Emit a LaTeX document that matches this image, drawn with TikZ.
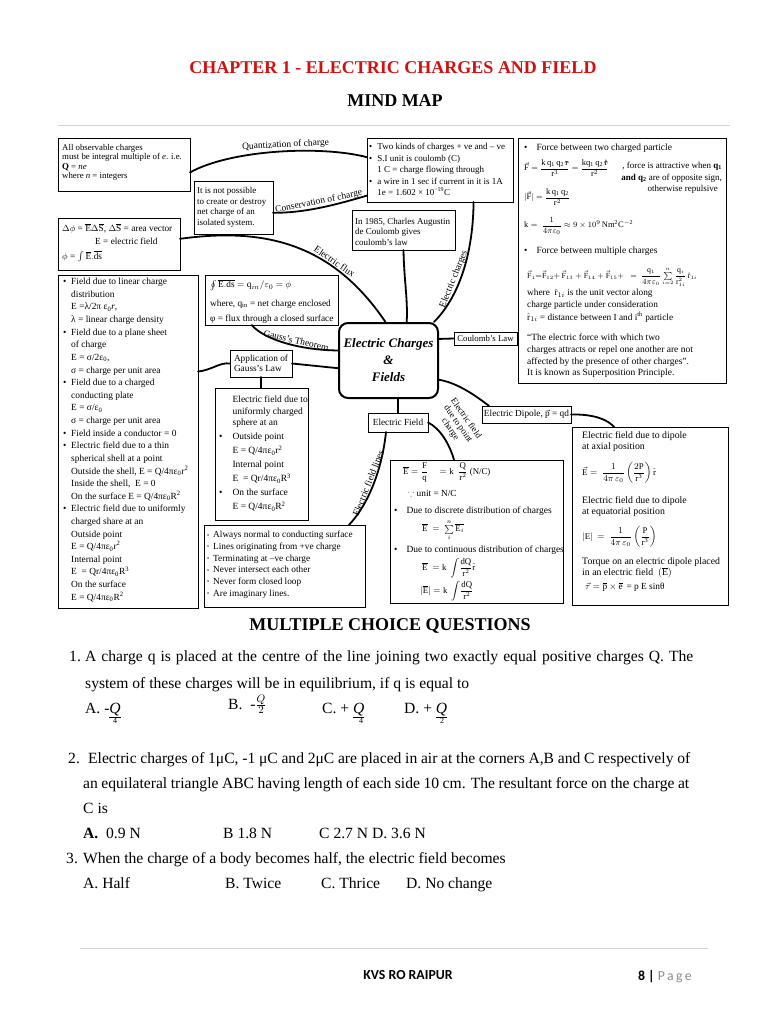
\documentclass[tikz,border=0pt]{standalone}
\usepackage{amsmath,amssymb}
\usepackage{fontspec}
\setmainfont{Liberation Serif}
\newfontfamily\calfont{Carlito}
\usetikzlibrary{calc}
\definecolor{titlered}{RGB}{210,16,16}
\definecolor{rulegray}{RGB}{210,210,210}
\definecolor{pagegray}{RGB}{140,140,140}
\newcommand{\mf}{\fontsize{9.3}{11}\selectfont}
\newcommand{\bu}[1][8pt]{\makebox[#1][l]{\textbullet}}
\newcommand{\ii}[1][8pt]{\hspace*{#1}}
\newcommand{\sbu}{\makebox[6pt][l]{\raisebox{0.6pt}{\fontsize{6}{6}\selectfont\textbullet}}}
\newcommand{\tsub}[1]{\textsubscript{#1}}
\newcommand{\tsup}[1]{\textsuperscript{#1}}
\begin{document}
\begin{tikzpicture}[x=1pt,y=-1pt,
  box/.style={draw, line width=0.6pt, anchor=north west, inner sep=0pt, outer sep=0pt},
  ibox/.style={box, align=left, font=\fontsize{8.8}{10}\selectfont},
  tx/.style={anchor=north west, inner sep=0pt, align=left, font=\mf},
  fx/.style={anchor=west, inner sep=0pt, font=\mf},
  branch/.style={line width=1.8pt, line cap=round},
  conn/.style={line width=0.9pt},
  blab/.style={font=\fontsize{9.5}{10}\selectfont, inner sep=1pt},
  body/.style={anchor=base west, inner sep=0pt, font=\fontsize{15.6}{18}\selectfont},
  head/.style={inner sep=0pt, font=\fontsize{18}{20}\selectfont\bfseries}
]
\useasboundingbox[fill=white] (0,0) rectangle (768,1024);

% ---------- header ----------
\node[head, text=titlered] (title) at (393,68) {CHAPTER 1 - ELECTRIC CHARGES AND FIELD};
\node[head] (mindmap) at (395,101) {MIND MAP};
\coordinate (rl) at (58,125); \coordinate (rr) at (730,125);
\draw[rulegray, line width=0.8pt] (rl) -- (rr);

% ---------- boxes ----------
\node[box, minimum width=132pt, minimum height=53pt] (b1) at (58,138) {};
\node[box, minimum width=122pt, minimum height=52pt] (b2) at (58,218) {};
\node[box, minimum width=140pt, minimum height=333pt] (b3) at (58,275) {};
\node[box, minimum width=79pt, minimum height=53pt] (b4) at (194,181) {};
\node[box, minimum width=146pt, minimum height=64pt] (b5) at (367,138) {};
\node[box, minimum width=103pt, minimum height=40pt] (b6) at (352,210) {};
\node[box, minimum width=208pt, minimum height=245pt] (b7) at (518,138) {};
\node[box, minimum width=133pt, minimum height=50pt] (b8) at (205,275) {};
\node[ibox, minimum width=62pt, minimum height=27pt, font=\fontsize{9.3}{10.5}\selectfont] (b9) at (230,350) {Application of\\Gauss's Law};
\node[ibox, minimum width=63pt, minimum height=13pt] (b11) at (454,332) {Coulomb's Law};
\node[box, minimum width=93pt, minimum height=132pt] (b12) at (215,388) {};
\node[ibox, minimum width=60pt, minimum height=19pt, font=\fontsize{9.3}{10}\selectfont] (b13) at (368,413) {Electric Field};
\node[ibox, minimum width=89pt, minimum height=17pt, font=\fontsize{9.3}{10}\selectfont] (b14) at (482,406) {Electric Dipole, $\vec{\mathrm p}$ = qd};
\node[box, minimum width=173pt, minimum height=143pt] (b15) at (390,460) {};
\node[box, minimum width=161pt, minimum height=82pt] (b16) at (204,525) {};
\node[box, minimum width=156pt, minimum height=178pt] (b17) at (572,427) {};
\node[draw, line width=2pt, rounded corners=9pt, anchor=north west, inner sep=0pt,
      minimum width=99pt, minimum height=75pt, align=center,
      font=\fontsize{13}{17}\selectfont\bfseries\itshape] (c) at (338,322)
      {Electric Charges\\\&\\Fields};

% ---------- box texts ----------
\node[tx, font=\fontsize{8.8}{9.4}\selectfont] (t1) at (62,144)
 {All observable charges\\ must be integral multiple of \textit{e}. i.e.\\ \textbf{Q} = \textit{ne}\\ where \textit{n} = integers};
\node[tx] (t2) at (62,223)
 {$\Delta\phi$ = $\overline{\mathrm E}\Delta\overline{\mathrm S}$, $\Delta\overline{\mathrm S}$ = area vector\\[2pt]
  \hspace*{33pt}E = electric field\\[4pt]
  $\phi$ = $\int\overline{\mathrm E}.\overline{\mathrm{ds}}$};
\node[tx, font=\fontsize{9.4}{12.62}\selectfont] (t3) at (63,278)
 {\bu Field due to linear charge\\
  \ii distribution\\
  \ii E =λ/2π ε\tsub{0}\textit{r},\\
  \ii λ = linear charge density\\
  \bu Field due to a plane sheet\\
  \ii of charge\\
  \ii E = σ/2ε\tsub{0},\\
  \ii σ = charge per unit area\\
  \bu Field due to a charged\\
  \ii conducting plate\\
  \ii E = σ/ε\tsub{0}\\
  \ii σ = charge per unit area\\
  \bu Field inside a conductor = 0\\
  \bu Electric field due to a thin\\
  \ii spherical shell at a point\\
  \ii Outside the shell, E = Q/4πε\tsub{0}r\tsup{2}\\
  \ii Inside the shell, \ E = 0\\
  \ii On the surface E = Q/4πε\tsub{0}R\tsup{2}\\
  \bu Electric field due to uniformly\\
  \ii charged share at an\\
  \ii Outside point\\
  \ii E = Q/4πε\tsub{0}r\tsup{2}\\
  \ii Internal point\\
  \ii E \ = Qr/4πε\tsub{0}R\tsup{3}\\
  \ii On the surface\\
  \ii E = Q/4πε\tsub{0}R\tsup{2}};
\node[tx, font=\fontsize{9}{10.7}\selectfont] (t4) at (197,187)
 {It is not possible\\ to create or destroy\\ net charge of an\\ isolated system.};
\node[tx, font=\fontsize{9}{11.5}\selectfont] (t5) at (369,143)
 {\bu[6pt] Two kinds of charges + ve and -- ve\\
  \bu[6pt] S.I unit is coulomb (C)\\
  \ii[6pt] 1 C = charge flowing through\\
  \bu[6pt] a wire in 1 sec if current in it is 1A\\
  \ii[6pt] 1e = 1.602 × 10\tsup{−19}C};
\node[tx, font=\fontsize{9}{10.5}\selectfont] (t6) at (355,218)
 {In 1985, Charles Augustin\\ de Coulomb gives\\ coulomb's law};

% Coulomb box
\node[tx, font=\fontsize{9.5}{11}\selectfont] (c1) at (524,144) {\bu[10pt] Force between two charged particle};
\node[fx, font=\fontsize{8.5}{10}\selectfont] (c2) at (524,168) {$\vec{\mathrm F} = \dfrac{\mathrm{k\,q_1\,q_2\,\vec r}}{\mathrm r^3} = \dfrac{\mathrm{kq_1\,q_2\,\hat r}}{\mathrm r^2}$};
\node[tx, anchor=north east, align=right, font=\fontsize{9}{11.5}\selectfont] (c3) at (722,162)
 {, force is attractive when \textbf{q\tsub{1}}\\ \textbf{and q\tsub{2}} are of opposite sign,\\ otherwise repulsive\hspace*{4pt}};
\node[fx, font=\fontsize{8.5}{10}\selectfont] (c4) at (524,197) {$|\vec{\mathrm F}| = \dfrac{\mathrm{k\,q_1\,q_2}}{\mathrm r^2}$};
\node[fx, font=\fontsize{8.5}{10}\selectfont] (c5) at (524,226) {$\mathrm k = \ \dfrac{1}{4\pi\varepsilon_0}\approx 9\times10^9\,\mathrm{Nm^2C^{-2}}$};
\node[fx, font=\fontsize{9.5}{11}\selectfont] (c6) at (524,251) {\bu[10pt] Force between multiple charges};
\node[fx, font=\fontsize{7.8}{9}\selectfont] (c7) at (527,277)
 {$\vec{\mathrm F}_1{=}\vec{\mathrm F}_{12}{+}\,\vec{\mathrm F}_{13} + \vec{\mathrm F}_{14} + \vec{\mathrm F}_{15} + \ \ = \ \dfrac{\mathrm q_1}{4\pi\varepsilon_0}\sum\limits_{i=2}^{n}\dfrac{\mathrm q_i}{\mathrm r_{1i}^2}\,\hat{\mathrm r}_{1i}$};
\node[tx, font=\fontsize{9.3}{13}\selectfont] (c8) at (527,289)
 {where \ $\hat{\mathrm r}_{1i}$ is the unit vector along\\[-1.5pt] charge particle under consideration\\ $\hat{\mathrm r}_{1i}$ = distance between I and i\tsup{th} particle};
\node[tx, font=\fontsize{9.5}{11.7}\selectfont] (c9) at (527,334)
 {“The electric force with which two\\ charges attracts or repel one another are not\\ affected by the presence of other charges”.\\ It is known as Superposition Principle.};

% Gauss box
\node[fx] (g1) at (210,285) {$\oint\overline{\mathrm{E}.\mathrm{ds}} = \mathrm q_{in}/\varepsilon_0 = \phi$};
\node[tx, font=\fontsize{9.3}{14.5}\selectfont] (g2) at (210,300)
 {where, q\tsub{in} = net charge enclosed\\ φ = flux through a closed surface};

% sphere box
\node[tx, font=\fontsize{9.5}{11.5}\selectfont] (t12) at (219,396)
 {\ii[11pt] Electric field due to\\ \ii[11pt] uniformly charged\\ \ii[11pt] sphere at an\\[2.5pt]
  \bu[11pt] Outside point\\[2.5pt] \ii[11pt] E = Q/4πε\tsub{0}r\tsup{2}\\[2.5pt] \ii[11pt] Internal point\\[2.5pt]
  \ii[11pt] E \ = Qr/4πε\tsub{0}R\tsup{3}\\[2.5pt] \bu[11pt] On the surface\\[2.5pt] \ii[11pt] E = Q/4πε\tsub{0}R\tsup{2}};

% field lines box
\node[tx, font=\fontsize{9.3}{11.7}\selectfont] (t16) at (207,531)
 {\sbu Always normal to conducting surface\\ \sbu Lines originating from +ve charge\\ \sbu Terminating at --ve charge\\
  \sbu Never intersect each other\\ \sbu Never form closed loop\\ \sbu Are imaginary lines.};

% electric field box
\node[fx, font=\fontsize{8.8}{10}\selectfont] (e1) at (403,471) {$\overline{\mathrm E} = \dfrac{\vec{\mathrm F}}{\mathrm q}\quad = \mathrm k\ \ \dfrac{\mathrm Q}{\mathrm r^2}$ (N/C)};
\node[fx] (e2) at (408,493) {$\because$ unit = N/C};
\node[fx, font=\fontsize{9.5}{11}\selectfont] (e3) at (394,511) {\bu[10pt] Due to discrete distribution of charges};
\node[fx, font=\fontsize{8.8}{10}\selectfont] (e4) at (422,530) {$\overline{\mathrm E}\ = \ \sum\limits_{i}^{n}\overline{\mathrm E_i}$};
\node[fx, font=\fontsize{9.5}{11}\selectfont] (e5) at (394,550) {\bu[10pt] Due to continuous distribution of charges};
\node[fx, font=\fontsize{8.8}{10}\selectfont] (e6) at (422,568) {$\overline{\mathrm E}\ = \mathrm k\ \displaystyle\int\!\frac{\mathrm{dQ}}{\mathrm r^2}\hat{\mathrm r}$};
\node[fx, font=\fontsize{8.8}{10}\selectfont] (e7) at (420,591) {$|\overline{\mathrm E}| = \mathrm k\ \displaystyle\int\!\frac{\mathrm{dQ}}{\mathrm r^2}$};

% dipole box
\node[tx, font=\fontsize{9.8}{11.5}\selectfont] (d1) at (582,431) {Electric field due to dipole\\ at axial position};
\node[fx, font=\fontsize{8.8}{10}\selectfont] (d2) at (582,473) {$\vec{\mathrm E} = \ \dfrac{1}{4\pi\,\varepsilon_0}\left(\dfrac{2\mathrm P}{\mathrm r^3}\right)\hat{\mathrm r}$};
\node[tx, font=\fontsize{9.8}{11.5}\selectfont] (d3) at (582,496) {Electric field due to dipole\\ at equatorial position};
\node[fx, font=\fontsize{8.8}{10}\selectfont] (d4) at (582,537) {$|\mathrm E| \ = \ \dfrac{1}{4\pi\,\varepsilon_0}\left(\dfrac{\mathrm P}{\mathrm r^3}\right)$};
\node[tx, font=\fontsize{9.8}{11.5}\selectfont] (d5) at (582,557) {Torque on an electric dipole placed\\ in an electric field \ $(\overline{\mathrm E})$};
\node[fx] (d6) at (585,587) {$\vec\tau = \overline{\mathrm p}\times\overline{\mathrm e}$ \,= p E sinθ};

% ---------- branches ----------
\draw[branch] ($(b1.north east)!0.65!(b1.south east)$) .. controls (230,150) and (320,145) ..
  ($(b5.north west)!0.3!(b5.south west)$) node[blab, pos=0.55, sloped, above] (lq) {Quantization of charge};
\draw[branch] ($(b4.north east)!0.6!(b4.south east)$) .. controls (305,213) and (335,205) ..
  ($(b5.north west)!0.9!(b5.south west)$) node[blab, pos=0.5, sloped, above] (lc) {Conservation of charge};
\draw[branch] ($(b2.north east)!0.4!(b2.south east)$) .. controls (260,228) and (330,240) ..
  ($(c.north west)!0.47!(c.north east)$) node[blab, pos=0.7, sloped, above] (lf) {Electric flux};
\draw[branch] ($(c.north west)!0.95!(c.north east)$) .. controls (456,300) and (473,260) ..
  ($(b5.south west)!0.73!(b5.south east)$) node[blab, pos=0.45, sloped, above] (le) {Electric charges};
\draw[branch] (b6.south) .. controls (404,280) and (408,300) .. ($(c.north west)!0.68!(c.north east)$);
\draw[branch] ($(b8.south west)!0.35!(b8.south east)$) .. controls (265,340) and (300,350) ..
  ($(c.north west)!0.37!(c.south west)$) node[blab, pos=0.6, sloped, above] (lg) {Gauss's Theorem};
\draw[branch] (b9.east) -- ($(c.north west)!0.6!(c.south west)$);
\draw[branch] ($(b3.north east)!0.29!(b3.south east)$) .. controls (212,370) and (220,362) .. (b9.west);
\draw[branch] (b9.south) -- (b9.south |- b12.north);
\draw[branch] ($(c.north east)!0.22!(c.south east)$) -- (b11.west);
\draw[conn] (b11.east) -- (b11.east -| b7.west);
\draw[branch] (c.south -| b13.north) -- (b13.north);
\draw[branch] ($(c.north east)!0.75!(c.south east)$) .. controls (458,383) and (476,396) ..
  ($(b14.north west)!0.08!(b14.north east)$);
\draw[branch] ($(b13.south west)!0.3!(b13.south east)$) .. controls (382,470) and (368,505) ..
  ($(b16.north west)!0.9!(b16.north east)$) node[blab, pos=0.5, sloped, above] (ll) {Electric field lines};
\draw[branch] (b13.east) .. controls (440,428) and (450,445) .. ($(b15.north west)!0.37!(b15.north east)$);
\node[blab, align=center, rotate=-55, font=\fontsize{9}{9.5}\selectfont] (lp) at (458,424) {Electric field\\due to point\\charge};
\draw[branch] (b14.east) .. controls (595,414) and (608,420) .. ($(b17.north west)!0.27!(b17.north east)$);

% ---------- MCQ ----------
\node[head] (mcq) at (390,626) {MULTIPLE CHOICE QUESTIONS};
\node[body] (n1) at (69,661) {1.};
\node[body] (q1a) at (85,661) {\makebox[608pt][s]{A charge q is placed at the centre of the line joining two exactly equal positive charges Q. The}};
\node[body] (q1b) at (85,688) {system of these charges will be in equilibrium, if q is equal to};
\node[body] (o1a) at (85,713) {A. -\underline{\textit{Q}}};
\node[body] (o1b) at (228,709) {B. \ -$\frac{Q}{2}$};
\node[body] (o1c) at (322,713) {C. + \underline{\textit{Q}}};
\node[body] (o1d) at (404,713) {D. + \underline{\textit{Q}}};
\node[inner sep=0pt, font=\fontsize{8}{8}\selectfont] (s1a) at (115,721) {4};
\node[inner sep=0pt, font=\fontsize{8}{8}\selectfont] (s1c) at (361,721) {4};
\node[inner sep=0pt, font=\fontsize{8}{8}\selectfont] (s1d) at (442,721) {2};

\node[body] (n2) at (68,763) {2.};
\node[body] (q2a) at (88,763) {\makebox[602pt][s]{Electric charges of 1μC, -1 μC and 2μC are placed in air at the corners A,B and C respectively of}};
\node[body] (q2b) at (83,788) {\makebox[606pt][s]{an equilateral triangle ABC having length of each side 10 cm. The resultant force on the charge at}};
\node[body] (q2c) at (83,813) {C is};
\node[body] (o2a) at (83,838) {\textbf{A.} \ 0.9 N};
\node[body] (o2b) at (223,838) {B 1.8 N};
\node[body] (o2c) at (319,838) {C 2.7 N D. 3.6 N};

\node[body] (n3) at (66,863) {3.};
\node[body] (q3a) at (83,863) {When the charge of a body becomes half, the electric field becomes};
\node[body] (o3a) at (83,888) {A. Half};
\node[body] (o3b) at (225,888) {B. Twice};
\node[body] (o3c) at (321,888) {C. Thrice};
\node[body] (o3d) at (406,888) {D. No change};

% ---------- footer ----------
\coordinate (fl) at (80,948); \coordinate (fr) at (708,948);
\draw[rulegray, line width=0.8pt] (fl) -- (fr);
\node[inner sep=0pt, font=\calfont\fontsize{13.8}{15}\selectfont\bfseries] (kvs) at (408,975) {KVS RO RAIPUR};
\node[anchor=base east, inner sep=0pt, font=\calfont\fontsize{13.8}{15}\selectfont] (pg) at (692,980)
 {\textbf{8 |} \textcolor{pagegray}{P\,a\,g\,e}};
\end{tikzpicture}
\end{document}
